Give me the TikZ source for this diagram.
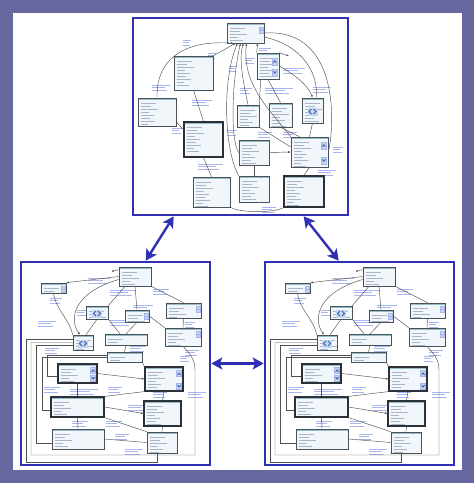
\documentclass[tikz,border=0pt]{standalone}
\usetikzlibrary{arrows.meta}
\definecolor{slate}{RGB}{104,104,160}
\definecolor{framec}{RGB}{48,48,180}
\definecolor{boxline}{RGB}{72,82,90}
\definecolor{boxfill}{RGB}{241,246,250}
\definecolor{headc}{RGB}{150,188,200}
\definecolor{btnc}{RGB}{196,214,240}
\definecolor{lblc}{RGB}{168,180,236}
\definecolor{txtc}{RGB}{170,180,200}
\definecolor{wirec}{RGB}{80,80,80}
\definecolor{iconc}{RGB}{60,90,180}

\begin{document}
\begin{tikzpicture}[x=1pt, y=-1pt,
  panel/.style={draw=framec, line width=2.6pt, inner sep=0pt},
  link/.style={framec, line width=2.4pt, {Stealth[length=11pt,width=12pt,inset=2.5pt]}-{Stealth[length=11pt,width=12pt,inset=2.5pt]}},
  cls/.style={draw=boxline, fill=boxfill, line width=0.6pt, inner sep=0pt, path picture={
      \fill[headc] (path picture bounding box.north west) rectangle ([yshift=-2.4pt]path picture bounding box.north east);
      \foreach \yy/\ll in {5.5/15,8/10,11.5/17,14/8,17.5/13,20/9,23.5/14,26/7,29.5/12}
        \draw[txtc, line width=0.4pt] ([xshift=2.5pt,yshift=-\yy pt]path picture bounding box.north west) -- ++(\ll pt,0pt);}},
  heavy/.style={line width=1.2pt, draw=boxline!60!black},
  wire/.style={draw=wirec, line width=0.45pt},
  arr/.style={-{Latex[length=2.5pt,width=2pt]}},
  lbl/.style={lblc, line width=0.4pt},
  btn/.style={fill=btnc, draw=lblc, line width=0.3pt},
  btnmark/.style={draw=iconc, line width=0.8pt}]

\fill[slate] (0,0) rectangle (474,483);
\fill[white] (13,13) rectangle (462,470);

\foreach \x/\y/\w in {152/85/18, 192/100/20, 229/66/8, 245/58/10, 240/88/12, 265/88/28, 283/68/22, 313/87/18, 227/130/10, 258/132/14, 283/132/14, 333/147/10, 198/164/25, 262/207/14, 318/170/18, 172/128/10, 259/48/12, 208/53/8, 183/40/8}
  \draw[lbl] (\x,\y) -- ++(\w,0) (\x,\y+2.5) -- ++(0.7*\w,0) (\x,\y+5) -- ++(0.85*\w,0);

\foreach \n/\x/\y/\w/\h in {t1/245.5/33/37/20, t2/193.5/73/39/34, t3/268/66/22/26, t4/157/112/38/28, t6/248/116/22/22, t7/280.5/115/23/24, t8/312.5/110.5/21/25, t9/254/152.5/30/25, t10/309.5/152/37/30, t11/211.5/192/37/30, t12/254/189/30/26}
  \node[cls, minimum width=\w pt, minimum height=\h pt] (\n) at (\x,\y) {};
\node[cls, heavy, minimum width=39pt, minimum height=35pt] (t5) at (203.5,139.5) {};
\node[cls, heavy, minimum width=40pt, minimum height=31pt] (t13) at (304,191.5) {};

\draw[wire,arr] (t4.north) .. controls (156,55) and (190,40) .. ([xshift=-12pt]t1.south);
\draw[wire,arr] (t2.north east) -- ([xshift=-10pt]t1.south);
\draw[wire] (t2.south) -- (t5.north);
\draw[wire] ([yshift=-10pt]t4.east) -- ([yshift=10pt]t5.west);
\draw[wire] (t5.south) -- (t11.north);
\draw[wire,arr] (t12.north west) .. controls (224,150) and (222,80) .. ([xshift=-8pt]t1.south);
\draw[wire,arr] (t9.west) .. controls (230,140) and (232,80) .. ([xshift=-5pt]t1.south);
\draw[wire,arr] (t6.north) .. controls (245,90) and (238,60) .. ([xshift=-2pt]t1.south);
\draw[wire,arr] (t10.north west) .. controls (270,110) and (242,85) .. ([xshift=1pt]t1.south);
\draw[wire,arr] (t3.north west) -- ([xshift=12pt]t1.south);
\draw[wire] ([xshift=4pt]t3.south west) -- (t6.north east);
\draw[wire] (t3.south) -- (t7.north);
\draw[wire,arr] (t3.east) .. controls (295,75) and (308,85) .. (t8.north);
\coordinate (t3out) at (289,56);
\draw[wire,arr] (t3.north east) -- (t3out);
\draw[wire] (t1.east) .. controls (342,28) and (334,130) .. (t10.east);
\draw[wire] ([yshift=-4pt]t1.east) .. controls (300,45) and (318,70) .. ([xshift=4pt]t8.north);
\draw[wire] (t8.south) -- (t10.north);
\draw[wire] (t9.south) -- (t12.north);
\draw[wire] (t10.south) -- (t13.north);
\draw[wire,arr] (t9.east) -- (t10.west);
\draw[wire] (t7.south) -- ([xshift=-10pt]t10.north);
\draw[wire] (t6.south east) -- ([yshift=5pt]t10.west);
\draw[wire] (t11.south east) .. controls (240,213) and (275,213) .. (t13.south west);

\foreach \n in {t3,t10} {
  \draw[btn] ([xshift=-7pt,yshift=-5pt]\n.north east) rectangle ++(5pt,-7pt);
  \draw[btn] ([xshift=-7pt,yshift=3pt]\n.south east) rectangle ++(5pt,7pt);
  \draw[btnmark] ([xshift=-6pt,yshift=-10pt]\n.north east) -- ++(1.5pt,2pt) -- ++(1.5pt,-2pt);
  \draw[btnmark] ([xshift=-6pt,yshift=8pt]\n.south east) -- ++(1.5pt,-2pt) -- ++(1.5pt,2pt);
}
\foreach \n in {t1} {
  \draw[btn] ([xshift=-5pt,yshift=-4pt]\n.north east) rectangle ++(3.5pt,-2.5pt);
  \draw[btn] ([xshift=-5pt,yshift=-7.5pt]\n.north east) rectangle ++(3.5pt,-2.5pt);
}
\foreach \n in {t8} {
  \fill[btnc] ([xshift=-5pt,yshift=-5pt]\n.center) rectangle ++(10pt,8pt);
  \draw[btnmark] ([xshift=-1pt,yshift=1.5pt]\n.center) -- ++(-2.5pt,-2.5pt) -- ++(2.5pt,-2.5pt);
  \draw[btnmark] ([xshift=1pt,yshift=1.5pt]\n.center) -- ++(2.5pt,-2.5pt) -- ++(-2.5pt,-2.5pt);
}

\foreach \dx/\p in {0pt/l-,244pt/r-} {
\begin{scope}[xshift=\dx, name prefix=\p]
\foreach \x/\y/\w in {88/278/22, 50/298/12, 110/290/26, 153/289/16, 38/321/18, 77/310/10, 110/320/22, 133/305/20, 185/322/10, 45/348/14, 185/350/14, 130/346/16, 44/387/16, 70/389/28, 108/387/14, 153/392/14, 188/392/18, 72/421/16, 106/421/16, 128/405/18, 115/434/14, 125/449/18, 180/356/10}
  \draw[lbl] (\x,\y) -- ++(\w,0) (\x,\y+2.5) -- ++(0.7*\w,0) (\x,\y+5) -- ++(0.85*\w,0);

\foreach \n/\x/\y/\w/\h in {A/135/276.5/32/19, B/53.5/288/25/10, C/97/312.5/22/13, D/137/316/24/12, E/183.5/310.5/35/15, F/83/342.5/20/15, G/126/339.5/42/11, H/183/337/36/18, I/124.5/357/35/10, N/78/439/52/20, O/162/442.5/30/21}
  \node[cls, minimum width=\w pt, minimum height=\h pt] (\n) at (\x,\y) {};
\foreach \n/\x/\y/\w/\h in {J/77.5/373.5/39/19, K/164/379/38/24, L/77.5/407/53/20, M/162.5/413.5/37/25}
  \node[cls, heavy, minimum width=\w pt, minimum height=\h pt] (\n) at (\x,\y) {};

\coordinate (Ain) at (113,271);
\fill[wirec] (Ain) circle (1pt);
\draw[wire] (Ain) -- ([yshift=-3pt]A.north west);
\draw[wire,arr] (A.west) -- (B.north east);
\draw[wire] ([xshift=-10pt]A.south) -- (C.north east);
\draw[wire] (A.south) -- (D.north);
\draw[wire] (A.south east) -- (E.north);
\draw[wire] (B.south) .. controls (56,310) and (70,320) .. (F.north west);
\draw[wire,arr] ([yshift=-3pt]A.west) .. controls (75,292) and (68,318) .. ([xshift=-3pt]F.north);
\draw[wire] (C.south) -- ([xshift=3pt]F.north);
\draw[wire] (C.south east) -- ([xshift=-6pt]G.north);
\draw[wire] (D.south) -- (G.north);
\draw[wire] (D.east) -- (H.north west);
\draw[wire] (E.south) -- (H.north);
\draw[wire] (G.south) -- (I.north);
\draw[wire] (I.south east) -- (K.north west);
\draw[wire] (J.south) -- (L.north);
\draw[wire,arr] (J.east) -- (K.west);
\draw[wire] (K.south) -- (M.north);
\draw[wire] (L.south) -- (N.north);
\draw[wire] (L.north east) -- (K.south west);
\draw[wire,arr] (L.east) -- (M.west);
\draw[wire] (L.south east) -- (O.north west);
\draw[wire] (M.south) -- (O.north);
\draw[wire] (N.east) -- (O.west);
\draw[wire] ([yshift=3pt]F.west) -| (26,462) -| ([xshift=-5pt]O.south);
\draw[wire] (F.west) -| (31,455) -- (195,455) -- (195,370) .. controls (195,358) and (188,352) .. (H.south);
\draw[wire] ([yshift=-3pt]F.west) -| (36,443) -- ([yshift=-4pt]N.west);
\draw[wire] (I.west) -| (42,410) -- ([yshift=-3pt]L.west);
\draw[wire] ([yshift=2pt]I.west) -| (47,376) -- ([yshift=-2.5pt]J.west);

\foreach \n in {J,K} {
  \draw[btn] ([xshift=-7pt,yshift=-4pt]\n.north east) rectangle ++(5pt,-6pt);
  \draw[btn] ([xshift=-7pt,yshift=2pt]\n.south east) rectangle ++(5pt,6pt);
  \draw[btnmark] ([xshift=-6pt,yshift=-8.5pt]\n.north east) -- ++(1.5pt,2pt) -- ++(1.5pt,-2pt);
  \draw[btnmark] ([xshift=-6pt,yshift=6.5pt]\n.south east) -- ++(1.5pt,-2pt) -- ++(1.5pt,2pt);
}
\foreach \n in {B,D,E,H} {
  \draw[btn] ([xshift=-5pt,yshift=-3.5pt]\n.north east) rectangle ++(3.5pt,-2.5pt);
  \draw[btn] ([xshift=-5pt,yshift=-6.8pt]\n.north east) rectangle ++(3.5pt,-2.5pt);
}
\foreach \n in {C,F} {
  \fill[btnc] ([xshift=-5pt,yshift=-5pt]\n.center) rectangle ++(10pt,8pt);
  \draw[btnmark] ([xshift=-1pt,yshift=1.5pt]\n.center) -- ++(-2.5pt,-2.5pt) -- ++(2.5pt,-2.5pt);
  \draw[btnmark] ([xshift=1pt,yshift=1.5pt]\n.center) -- ++(2.5pt,-2.5pt) -- ++(-2.5pt,-2.5pt);
}
\end{scope}
}

\node[panel, minimum width=215pt, minimum height=197pt] (ptop) at (240.5,116.5) {};
\node[panel, minimum width=189pt, minimum height=203pt] (pleft) at (115.5,363.5) {};
\node[panel, minimum width=189pt, minimum height=203pt] (pright) at (359.5,363.5) {};
\draw[link] ([xshift=42pt]ptop.south west) -- ([xshift=126pt]pleft.north west);
\draw[link] ([xshift=172pt]ptop.south west) -- ([xshift=75pt]pright.north west);
\draw[link] (pleft.east) -- (pright.west);
\end{tikzpicture}
\end{document}
